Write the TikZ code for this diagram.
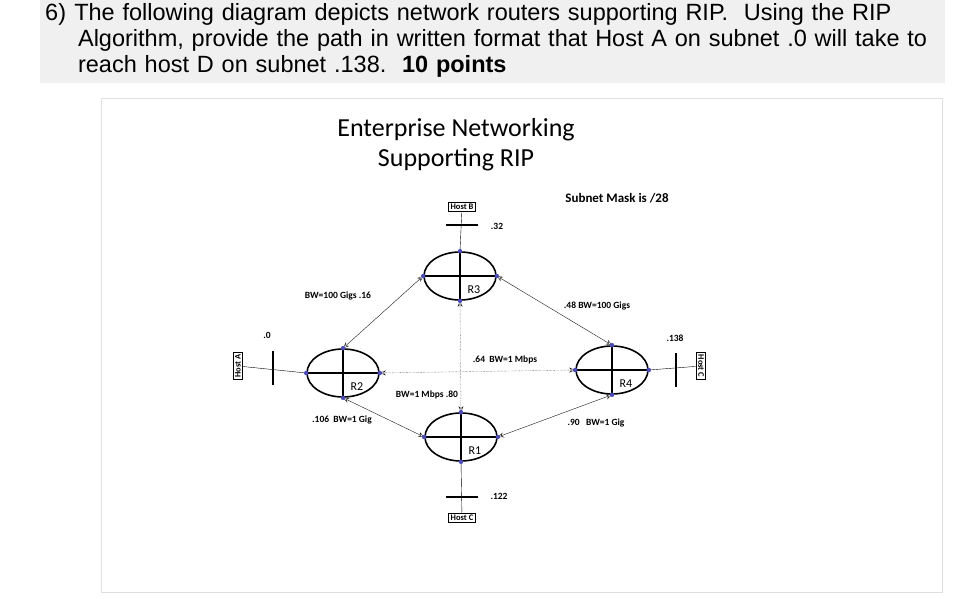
\documentclass[tikz,border=0pt]{standalone}
\usepackage{fontspec}
\setmainfont{Liberation Sans}
\newfontfamily\carl{Carlito}
\usetikzlibrary{arrows.meta,shapes.geometric}
\begin{document}
\begin{tikzpicture}[x=1pt,y=-1pt,
  rt/.style={draw,line width=1.6pt,ellipse,minimum width=72pt,minimum height=48pt,inner sep=0pt},
  lk/.style={gray!20!black,line width=0.4pt,{Stealth[open,length=6pt,width=5pt]}-{Stealth[open,length=6pt,width=5pt]}},
  dl/.style={lk,densely dotted},
  lb/.style={font=\carl\bfseries\fontsize{9.5}{10}\selectfont,inner sep=1pt},
  hb/.style={draw,line width=1.1pt,font=\carl\bfseries\fontsize{8.5}{9}\selectfont,inner sep=2pt,fill=white},
  dot/.style={circle,fill=blue!60!black!70,inner sep=0pt,minimum size=4.5pt},
  bar/.style={line width=2.2pt}]
\useasboundingbox (0,0) rectangle (953,599);
\fill[gray!12] (40,0) rectangle (945,83);
\draw[gray!25,line width=1pt] (101,99) rectangle (942,592);
\node[anchor=north west,align=left,font=\fontsize{23.5}{26}\selectfont,inner sep=0pt,text width=900pt] at (45,3)
 {6)\hspace{0.35em}The following diagram depicts network routers supporting RIP.\ \ Using the RIP\\
 \hspace*{1.4em}Algorithm, provide the path in written format that Host A on subnet .0 will take to\\
 \hspace*{1.4em}reach host D on subnet .138.\ \ \textbf{10 points}};
\node[font=\carl\fontsize{26}{30}\selectfont,align=center] (title) at (456,145) {Enterprise Networking\\Supporting RIP};
\node[lb,font=\carl\bfseries\fontsize{13}{14}\selectfont] (mask) at (617,198) {Subnet Mask is /28};
% routers
\foreach \n/\x/\y/\t in {R3/460/276/R3,R2/343/373/R2,R1/461/437/R1,R4/612/370/R4}{
  \node[rt] (\n) at (\x,\y) {};
  \draw[line width=1.4pt] (\n.west)--(\n.east) (\n.north)--(\n.south);
  \node[font=\carl\fontsize{12}{13}\selectfont] at (\x+14,\y+14) {\t};
}
% hosts
\node[hb] (HB) at (462,207) {Host B};
\node[hb] (HC) at (462,518) {Host C};
\node[hb,rotate=90] (HA) at (238,366) {Host A};
\node[hb,rotate=-90] (HD) at (701,366) {Host C};
\draw[bar] (446,225)--(478,225); \draw[bar] (446,497)--(478,497);
\draw[bar] (273,351)--(273,385); \draw[bar] (676,353)--(676,387);
\draw (HB)--(R3.north); \draw (HC)--(R1.south);
\draw (HA)--(R2.west); \draw (HD)--(R4.east);
% links
\draw[lk] (R2.north)--(R3.west);
\draw[lk] (R3.east)--(R4.north);
\draw[lk] (R2.south)--(R1.west);
\draw[lk] (R1.east)--(R4.south);
\draw[dl] (R2.east)--(R4.west);
\draw[dl] (R3.south)--(R1.north);
\foreach \n in {R1,R2,R3,R4}{\foreach \a in {north,south,east,west}{\node[dot] at (\n.\a) {};}}
% labels
\node[lb] at (338,296) {BW=100 Gigs .16};
\node[lb] at (497,226) {.32};
\node[lb] at (597,306) {.48 BW=100 Gigs};
\node[lb] at (267,335) {.0};
\node[lb] at (675,338) {.138};
\node[lb] at (505,360) {.64\ \ BW=1 Mbps};
\node[lb] at (427,395) {BW=1 Mbps .80};
\node[lb] at (342,420) {.106\ \ BW=1 Gig};
\node[lb] at (596,423) {.90\ \ \ BW=1 Gig};
\node[lb] at (499,496) {.122};
\end{tikzpicture}
\end{document}
